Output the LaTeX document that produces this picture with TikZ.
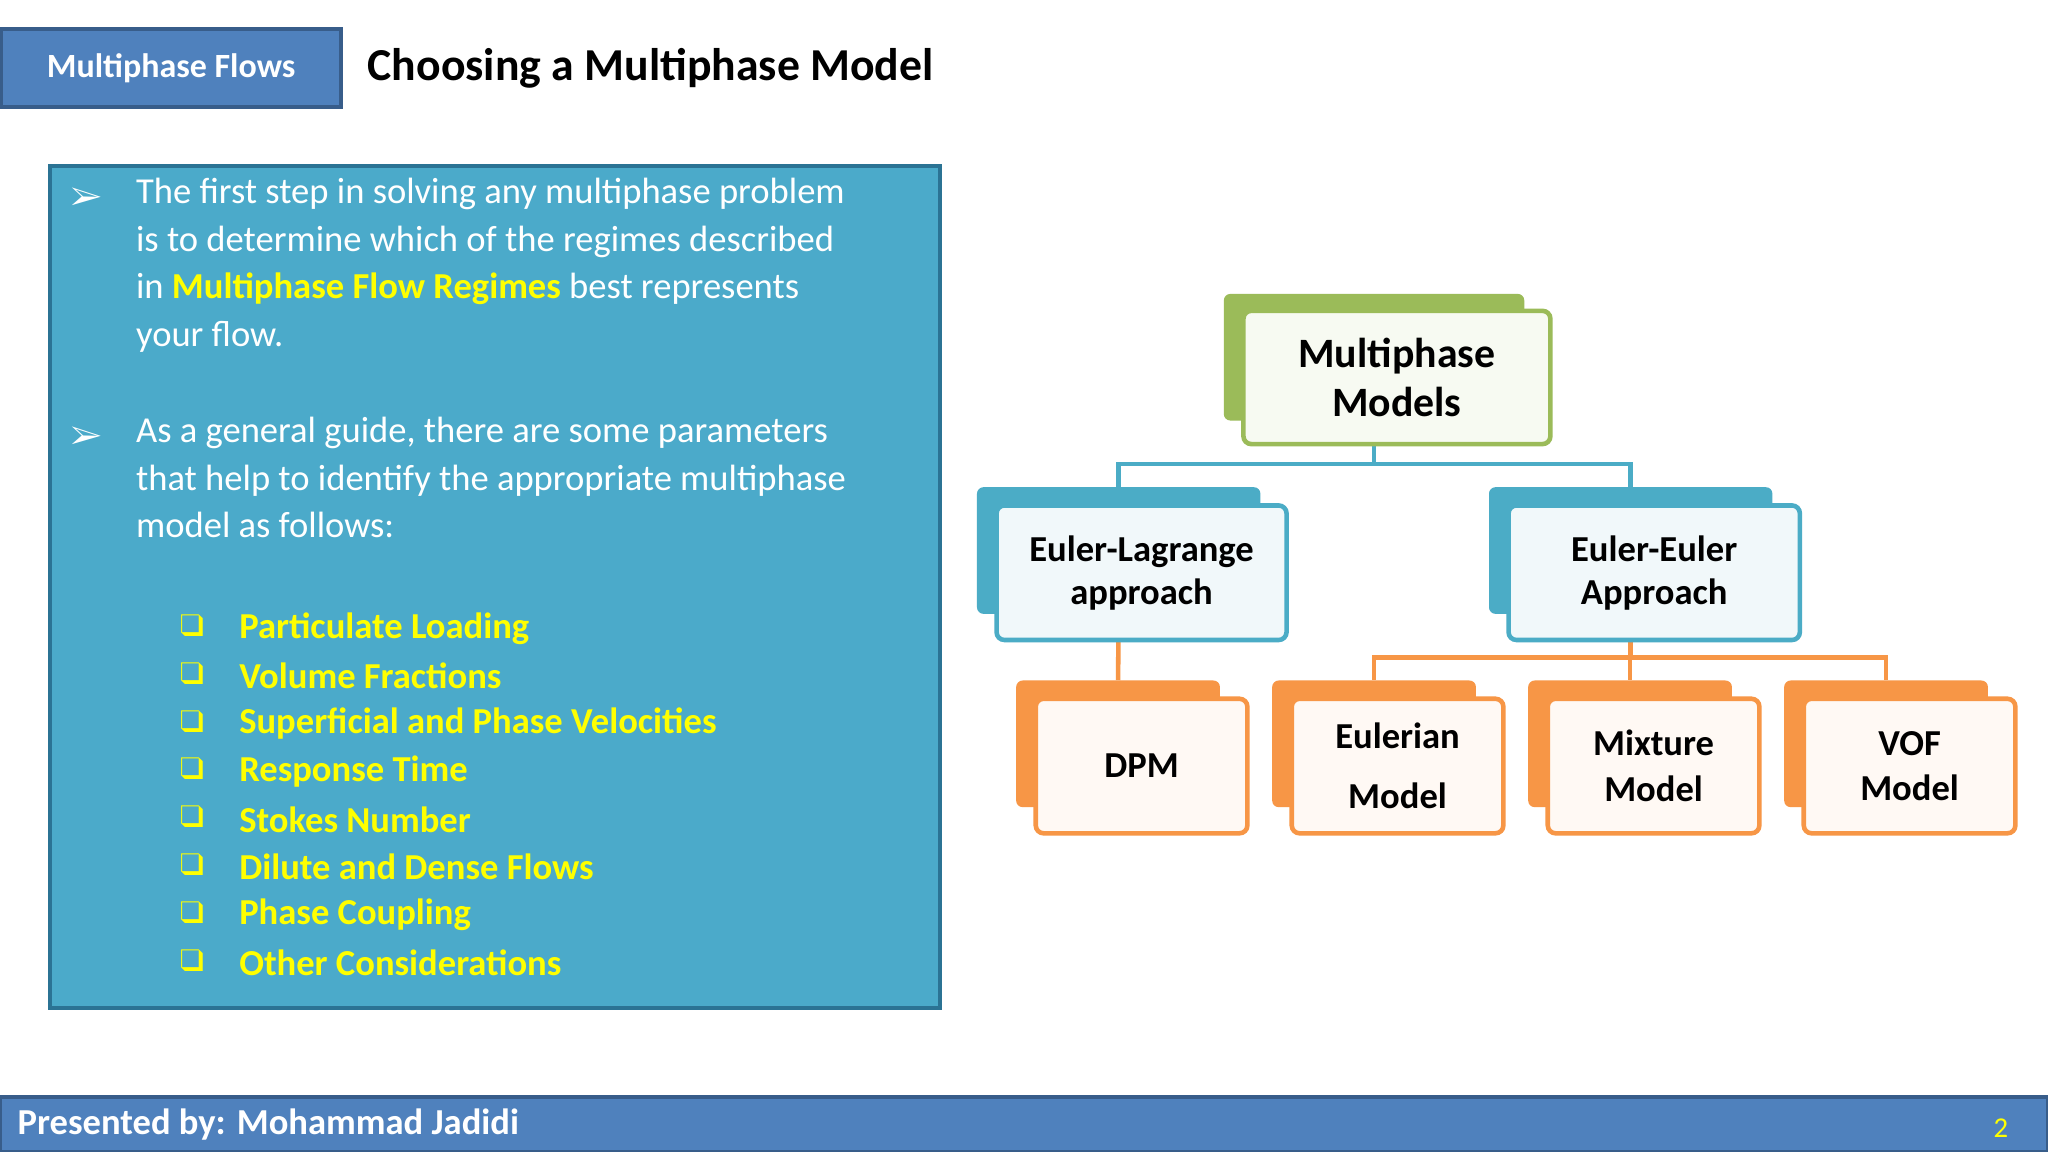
\documentclass[tikz,border=0pt]{standalone}
\usepackage{fontspec}
\setmainfont{Carlito}
\usepackage{pifont}
\usetikzlibrary{positioning,calc}
\definecolor{hdrblue}{HTML}{4F81BD}
\definecolor{hdrdark}{HTML}{385D8A}
\definecolor{panel}{HTML}{4BAACA}
\definecolor{paneldark}{HTML}{2B7394}
\definecolor{mmgreen}{HTML}{9BBB59}
\definecolor{apteal}{HTML}{4BACC6}
\definecolor{mdorange}{HTML}{F79646}
\definecolor{hiyellow}{HTML}{FFFF00}

\begin{document}
\begin{tikzpicture}
    [x=1pt, y=-1pt,
    back/.style={draw=none, rounded corners=5pt, inner sep=0pt},
    front/.style={draw, line width=3.5pt, rounded corners=6pt, inner sep=0pt, font=\bfseries, align=center},
    link/.style={line width=3.5pt},
    item/.style={anchor=west, inner sep=0pt, font=\fontsize{28}{30}\selectfont\bfseries, text=hiyellow}
    ]
    \useasboundingbox (0,0) rectangle (1568,882);
    \fill[white] (0,0) rectangle (1568,882);
    % header
    \node (hdr) [draw=hdrdark, line width=3pt, fill=hdrblue, minimum width=260pt, minimum height=60pt, text=white,
        font=\fontsize{26}{28}\selectfont\bfseries] at (131,52) {Multiphase Flows};
    \node (title) [anchor=west, font=\fontsize{35}{38}\selectfont\bfseries] at (278,52) {Choosing a Multiphase Model};
    % left panel
    \node (pnl) [draw=paneldark, line width=3pt, fill=panel, minimum width=682pt, minimum height=645pt] at (379,449.5) {};
    \node (b1) [text=white, font=\fontsize{26}{30}\selectfont] at (66,152) {\ding{226}};
    \node (t1) [anchor=north west, inner sep=0pt, text=white, align=left, font=\fontsize{28}{36.6}\selectfont] at (104,136)
        {The first step in solving any multiphase problem\\is to determine which of the regimes described\\in \textcolor{hiyellow}{\bfseries Multiphase Flow Regimes} best represents\\your flow.};
    \node (b2) [text=white, font=\fontsize{26}{30}\selectfont] at (66,335) {\ding{226}};
    \node (t2) [anchor=north west, inner sep=0pt, text=white, align=left, font=\fontsize{28}{36.6}\selectfont] at (104,319)
        {As a general guide, there are some parameters\\that help to identify the appropriate multiphase\\model as follows:};
    \foreach \txt [count=\i] in {Particulate Loading, Volume Fractions, Superficial and Phase Velocities, Response Time,
        Stokes Number, Dilute and Dense Flows, Phase Coupling, Other Considerations} {
        \node (c\i) [text=hiyellow, font=\fontsize{24}{26}\selectfont] at (147,{481+36.6*(\i-1)-2}) {\ding{113}};
        \node (p\i) [item] at (183,{481+36.6*(\i-1)}) {\txt};
    }
    % back boxes
    \node (mmB) [back, fill=mmgreen, minimum width=230pt, minimum height=97pt] at (1052,273.5) {};
    \node (elB) [back, fill=apteal, minimum width=217pt, minimum height=97pt] at (856.5,421.5) {};
    \node (eeB) [back, fill=apteal, minimum width=217pt, minimum height=97pt] at (1248.5,421.5) {};
    \foreach \n/\cx in {dpm/856, eul/1052, mix/1248, vof/1444}
        \node (\n B) [back, fill=mdorange, minimum width=156pt, minimum height=97pt] at (\cx,569.5) {};
    % connectors
    \draw[link, apteal] (mmB.south) -- ++(0,33) -| (elB.north);
    \draw[link, apteal] (mmB.south) ++(0,33) -| (eeB.north);
    \draw[link, mdorange] (elB.south) -- (dpmB.north);
    \foreach \n in {eul, mix, vof}
        \draw[link, mdorange] (eeB.south) -- ++(0,33) -| (\n B.north);
    % front boxes
    \node (mm) [front, draw=mmgreen, fill=white!92!mmgreen, minimum width=235pt, minimum height=102pt,
        font=\fontsize{32}{38}\selectfont\bfseries] at (1069.5,289) {Multiphase\\Models};
    \node (el) [front, draw=apteal, fill=white!92!apteal, minimum width=222pt, minimum height=103pt,
        font=\fontsize{28}{33}\selectfont\bfseries] at (874,438.5) {Euler-Lagrange\\approach};
    \node (ee) [front, draw=apteal, fill=white!92!apteal, minimum width=223pt, minimum height=103pt,
        font=\fontsize{28}{33}\selectfont\bfseries] at (1266.5,438.5) {Euler-Euler\\Approach};
    \node (dpm) [front, draw=mdorange, fill=white!94!mdorange, minimum width=162pt, minimum height=103pt,
        font=\fontsize{28}{33}\selectfont\bfseries] at (874,586.5) {DPM};
    \node (eul) [front, draw=mdorange, fill=white!94!mdorange, minimum width=162pt, minimum height=103pt,
        font=\fontsize{28}{46}\selectfont\bfseries] at (1070,586.5) {Eulerian\\Model};
    \node (mix) [front, draw=mdorange, fill=white!94!mdorange, minimum width=162pt, minimum height=103pt,
        font=\fontsize{28}{35}\selectfont\bfseries] at (1266,586.5) {Mixture\\Model};
    \node (vof) [front, draw=mdorange, fill=white!94!mdorange, minimum width=162pt, minimum height=103pt,
        font=\fontsize{28}{35}\selectfont\bfseries] at (1462,586.5) {VOF\\Model};
    % footer
    \node (ftr) [draw=hdrdark, line width=3pt, fill=hdrblue, minimum width=1568pt, minimum height=42pt, inner sep=0pt] at (784,861) {};
    \node (who) [anchor=west, text=white, font=\fontsize{28}{30}\selectfont\bfseries] at (10,861) {Presented by: Mohammad Jadidi};
    \node (pg) [text=hiyellow, font=\fontsize{22}{24}\selectfont] at (1532,864) {2};
\end{tikzpicture}
\end{document}
